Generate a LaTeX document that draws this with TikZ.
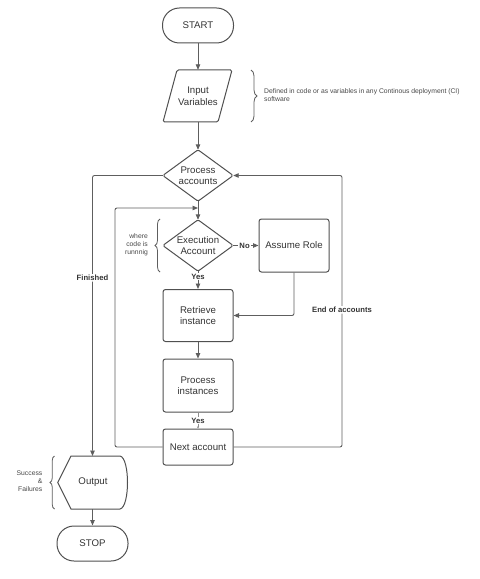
\documentclass[tikz,border=0pt]{standalone}
\usepackage{fontspec}
\setmainfont{Liberation Sans}
\usetikzlibrary{arrows.meta,decorations.pathreplacing}
\definecolor{ln}{HTML}{5E5E5E}
\definecolor{bd}{HTML}{505050}
\definecolor{tx}{HTML}{333333}
\newcommand\mainfs{\fontsize{9.7}{11.5}\selectfont}
\newcommand\lblfs{\fontsize{7.7}{9}\selectfont\bfseries}
\newcommand\notefs{\fontsize{6.8}{8}\selectfont}
\begin{document}
\begin{tikzpicture}[x=1bp,y=-1bp,
  box/.style={draw=bd, line width=1bp, rounded corners=2.5bp, minimum width=70bp, minimum height=53bp, inner sep=0pt, align=center, font=\mainfs, text=tx},
  term/.style={draw=bd, line width=1bp, rounded corners=17bp, minimum width=71bp, minimum height=35bp, inner sep=0pt, font=\mainfs, text=tx},
  plain/.style={minimum width=70bp, minimum height=51bp, inner sep=0pt, align=center, font=\mainfs, text=tx},
  shp/.style={draw=bd, line width=1bp, rounded corners=1.5bp},
  arr/.style={draw=ln, line width=0.9bp, -{Triangle[length=5.5bp,width=4.5bp]}},
  thinarr/.style={draw=ln!70, line width=0.6bp, -{Triangle[length=2bp,width=2bp]}},
  lnk/.style={draw=ln, line width=0.9bp, rounded corners=2bp},
  lbl/.style={font=\lblfs, text=tx, fill=white, inner sep=1bp},
  note/.style={font=\notefs, text=tx!90, inner sep=0pt},
  brc/.style={draw=ln, line width=0.8bp, decorate},
]
\useasboundingbox (0,0) rectangle (480,579);

% nodes
\node[term] (start) at (198,25.5) {START};
\node[plain, minimum height=52bp] (inp) at (198,96) {Input\\Variables};
\node[plain] (pa) at (198,175.5) {Process\\accounts};
\node[plain] (ea) at (198,245.5) {Execution\\Account};
\node[box] (ar) at (294,245.5) {Assume Role};
\node[box, minimum height=52bp] (ri) at (198,315.5) {Retrieve\\instance};
\node[box] (pi) at (198,385.5) {Process\\instances};
\node[box, minimum height=36bp] (na) at (198,447) {Next account};
\node[plain, minimum height=53bp] (out) at (93,482.5) {Output};
\node[term] (stop) at (92.5,543.5) {STOP};

% shapes drawn around plain nodes
\draw[shp] (177,70) -- (232,70) -- (218,122) -- (163,122) -- cycle;
\draw[shp] (pa.north) -- (pa.east) -- (pa.south) -- (pa.west) -- cycle;
\draw[shp] (ea.north) -- (ea.east) -- (ea.south) -- (ea.west) -- cycle;
\draw[draw=bd, line width=1bp] (out.west) -- (71,456) -- (120,456) .. controls (130,458) and (130,507) .. (120,509) -- (71,509) -- cycle;

% connectors
\coordinate (m) at (198,208);
\draw[arr] (start) -- (inp);
\draw[arr] (inp) -- (pa);
\draw[arr] (pa) -- (ea);
\draw[arr] (ea) -- node[lbl, pos=0.45] {No} (ar);
\draw[arr] (ea) -- node[lbl, pos=0.3] {Yes} (ri);
\draw[arr, rounded corners=2bp] (ar.south) |- (ri.east);
\draw[arr] (ri) -- (pi);
\draw[thinarr] (pi) -- node[lbl, fill=white] {Yes} (na);
\draw[arr, rounded corners=2bp] (na.west) -| (115,208) -- (m);
\draw[arr, rounded corners=2bp] (na.east) -- (342,447) -- node[lbl, pos=0.505] {End of accounts} (342,175.5) -- (pa.east);
\draw[arr, rounded corners=2bp] (pa.west) -- (92.5,175.5) -- node[lbl, pos=0.365] {Finished} (92.5,456);
\draw[arr] (out.south -| stop.north) -- (stop);

% braces and notes
\draw[brc, decoration={brace, amplitude=6bp}] (251,70) -- (251,122);
\draw[brc, decoration={brace, amplitude=5bp}] (160,272) -- (160,219);
\draw[brc, decoration={brace, amplitude=4.5bp}] (54.5,509) -- (54.5,456);
\node[note, anchor=west, align=left] (dn) at (264,95.5) {Defined in code or as variables in any Continous deployment (CI)\\software};
\node[note, anchor=east, align=right] (wn) at (148,245) {where\\code is\\runnnig};
\node[note, anchor=east, align=right] (sn) at (42.5,481.5) {Success\\\&\\Failures};
\end{tikzpicture}
\end{document}
